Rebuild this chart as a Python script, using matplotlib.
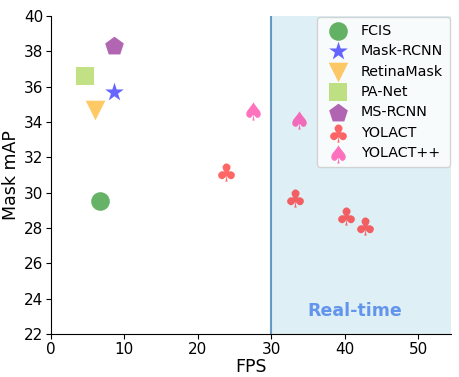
import matplotlib
matplotlib.use('Agg')
import matplotlib.pyplot as plt

# method names and (fps, mask mAP)
methods = ['FCIS', 'Mask-RCNN', 'RetinaMask', 'PA-Net', 'MS-RCNN', 'YOLACT', 'YOLACT++']
fps = [[6.7], [8.6], [6.0], [4.6], [8.6], [23.8, 33.2, 40.2, 42.7], [27.5, 33.8]]
mAP = [[29.5], [35.7], [34.7], [36.6], [38.3], [31.15, 29.7, 28.65, 28.1], [34.6, 34.1]]

markers = ['o', '*', 'v', 's', 'p', r'$\clubsuit$', r'$\spadesuit$']
colors = ['green', 'blue', 'orange', 'yellowgreen', 'purple', 'red', 'deeppink']
sizes = [180, 200, 200, 170, 200, 170, 170]

fig = plt.figure(figsize=(4.59, 3.77), dpi=100)
ax = fig.add_axes([0.111, 0.114, 0.872, 0.844])

# real-time region
ax.axvspan(30, 54.5, color='lightblue', alpha=0.4, lw=0, zorder=0)
ax.axvline(30, color='steelblue', lw=1.5, alpha=0.8, zorder=1)
ax.text(41.4, 23.3, 'Real-time', color='cornflowerblue', fontsize=12.5,
        fontweight='bold', ha='center', va='center')

for name, x, y, m, c, s in zip(methods, fps, mAP, markers, colors, sizes):
    ax.scatter(x, y, marker=m, color=c, alpha=0.6, s=s, label=name, lw=0, zorder=3)

ax.set_xlim(0, 54.5)
ax.set_ylim(22, 40)
ax.set_xticks(range(0, 51, 10))
ax.set_yticks(range(22, 41, 2))
ax.tick_params(labelsize=11, pad=2)
ax.set_xlabel('FPS', fontsize=12.5, labelpad=1)
ax.set_ylabel('Mask mAP', fontsize=12.5, labelpad=3)
ax.spines['top'].set_visible(False)
ax.spines['right'].set_visible(False)

ax.legend(loc='upper right', fontsize=10.3, scatterpoints=1, handletextpad=0.6,
          labelspacing=0.45, borderaxespad=0.1, borderpad=0.45, framealpha=0.8)

fig.savefig('out.png', dpi=100)
